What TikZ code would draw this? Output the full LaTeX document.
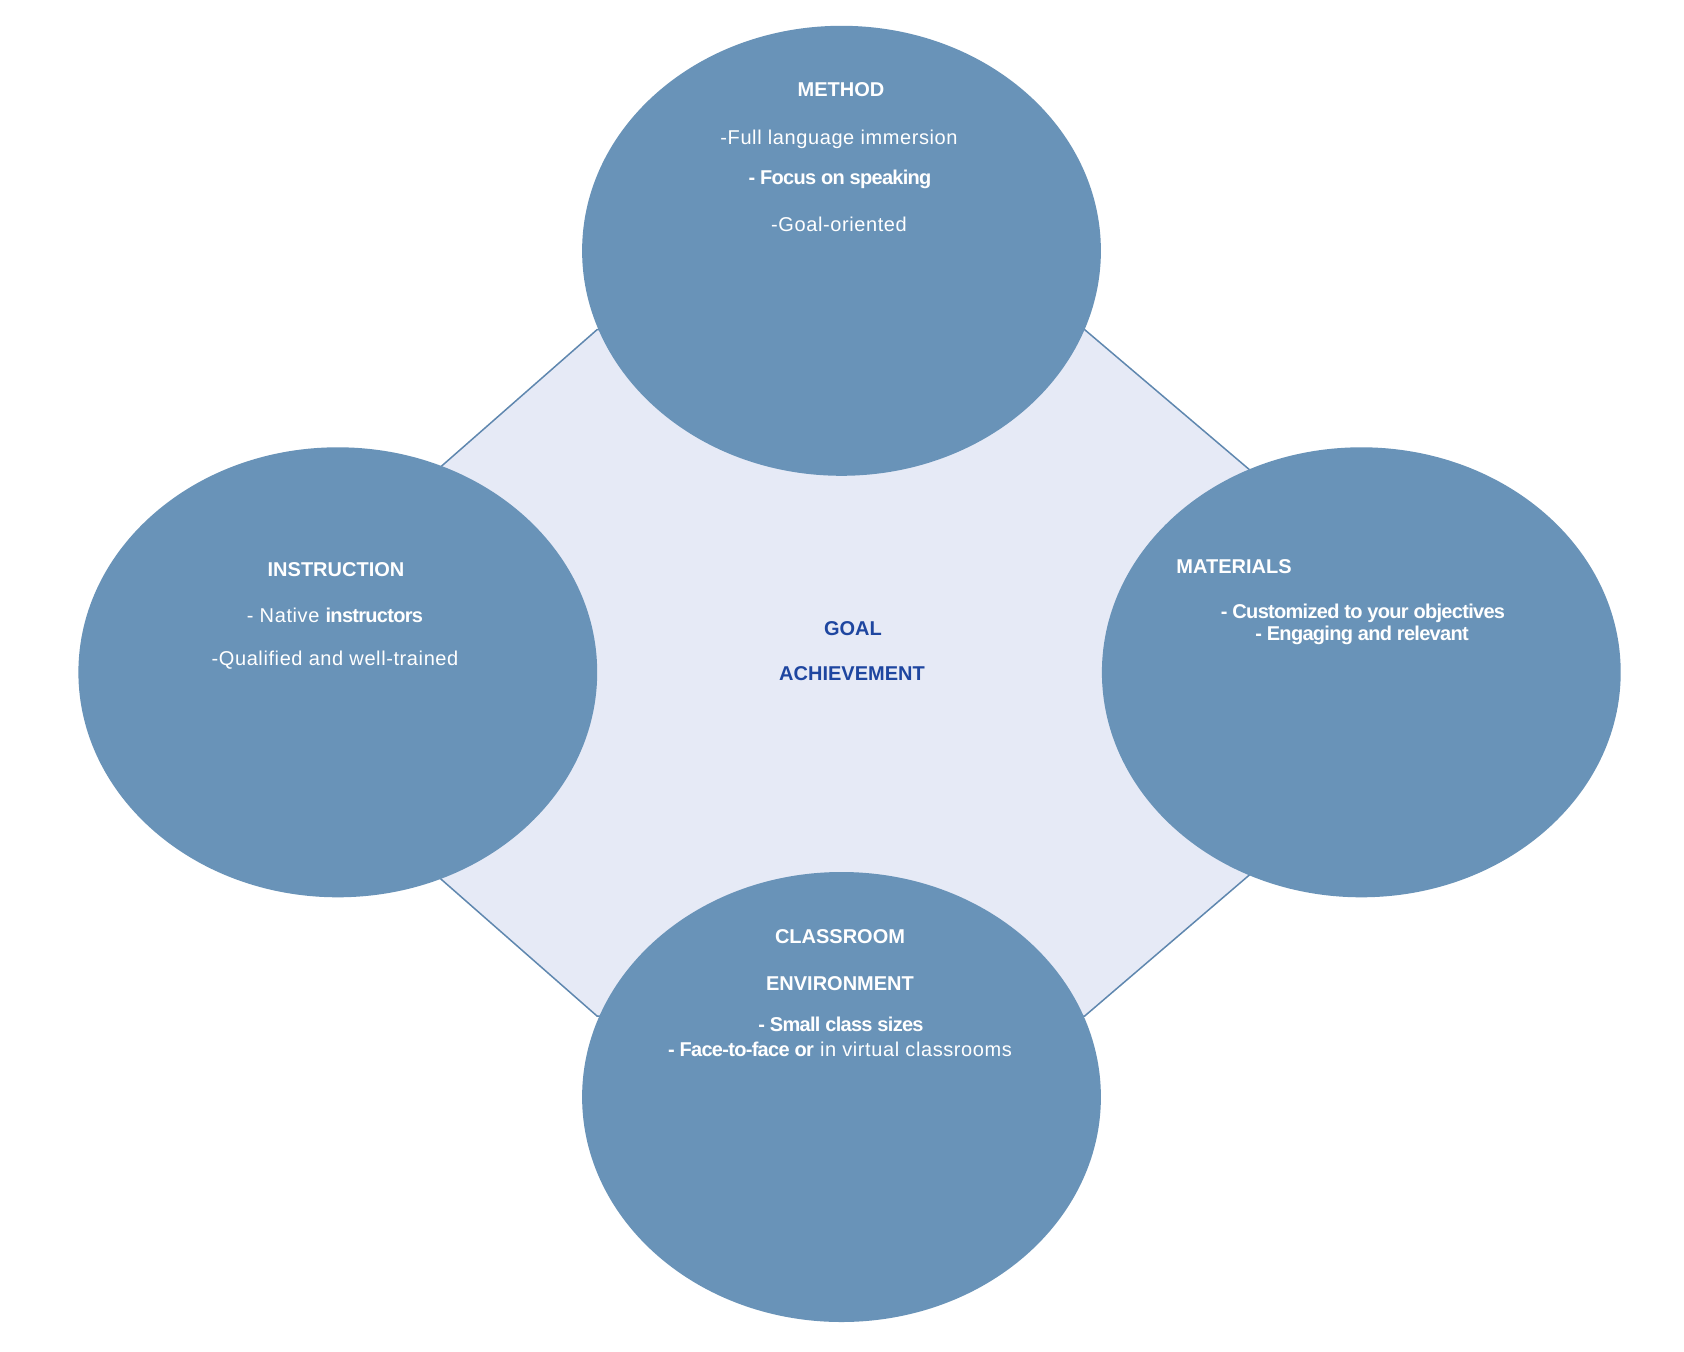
\documentclass[tikz,border=0pt]{standalone}
\usepackage{fontspec}
\setmainfont{Liberation Sans}
\newfontfamily\regwide[LetterSpace=3]{Liberation Sans}
\newfontfamily\boldtight[LetterSpace=-3.5]{Liberation Sans}
\usetikzlibrary{shapes.geometric}
\definecolor{blob}{HTML}{6993B8}
\definecolor{pale}{HTML}{E6EAF6}
\definecolor{edgeblue}{HTML}{5F87AF}
\definecolor{goalblue}{HTML}{1E46A0}
\begin{document}
\begin{tikzpicture}[x=0.5pt,y=-0.5pt,
  blobstyle/.style={ellipse, fill=blob, draw=none, minimum width=259.4pt, minimum height=225pt, inner sep=0pt},
  txt/.style={anchor=base, text=white, inner sep=0pt, font=\fontsize{10}{12}\selectfont\regwide},
  btxt/.style={anchor=base, text=white, inner sep=0pt, font=\fontsize{10}{12}\selectfont\boldtight\bfseries},
  hd/.style={anchor=base, text=white, inner sep=0pt, font=\fontsize{10}{12}\selectfont\bfseries},
  goaltxt/.style={hd, text=goalblue}]
\useasboundingbox (0,0) rectangle (1684,1352);
\fill[white] (0,0) rectangle (1684,1352);
% background octagon
\coordinate (o1) at (597,329.7);
\coordinate (o2) at (440.3,467.2);
\coordinate (o3) at (440.3,878.5);
\coordinate (o4) at (597,1016);
\coordinate (o5) at (1084.7,1016);
\coordinate (o6) at (1249,875.3);
\coordinate (o7) at (1249,469.3);
\coordinate (o8) at (1084.7,329.7);
\filldraw[fill=pale, draw=edgeblue, line width=0.75pt] (o1) -- (o2) -- (o3) -- (o4) -- (o5) -- (o6) -- (o7) -- (o8) -- cycle;
% ellipses
\node[blobstyle] (method) at (841.5,250.8) {};
\node[blobstyle] (instruction) at (337.8,672.3) {};
\node[blobstyle] (materials) at (1361.3,672.3) {};
\node[blobstyle] (classroom) at (841.5,1097) {};
% method texts
\node[hd] (m0) at (841,97) {METHOD};
\node[txt] (m1) at (839,144.5) {-Full language immersion};
\node[btxt] (m2) at (840,185) {- Focus on speaking};
\node[txt] (m3) at (839,231.5) {-Goal-oriented};
% instruction texts
\node[hd] (i0) at (336,576) {INSTRUCTION};
\node[txt] (i1) at (335,622) {- Native {\boldtight\bfseries instructors}};
\node[txt] (i2) at (335,665) {-Qualified and well-trained};
% materials texts
\node[hd] (t0) at (1234,573) {MATERIALS};
\node[btxt] (t1) at (1363,618) {- Customized to your objectives};
\node[btxt] (t2) at (1362,640.5) {- Engaging and relevant};
% goal
\node[goaltxt] (g0) at (853,635) {GOAL};
\node[goaltxt] (g1) at (852,680) {ACHIEVEMENT};
% classroom texts
\node[hd] (c0) at (840,943.5) {CLASSROOM};
\node[hd] (c1) at (840,990) {ENVIRONMENT};
\node[btxt] (c2) at (841,1031.5) {- Small class sizes};
\node[txt] (c3) at (840,1056) {{\boldtight\bfseries - Face-to-face or} in virtual classrooms};
\end{tikzpicture}
\end{document}
